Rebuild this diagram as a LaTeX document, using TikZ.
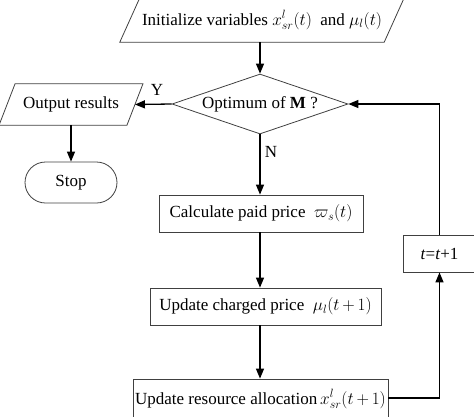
\documentclass[tikz,border=0pt]{standalone}
\usepackage{amsmath}
\usepackage{fontspec}
\setmainfont{Liberation Serif}
\usetikzlibrary{shapes.geometric,shapes.misc,arrows.meta,calc}
\begin{document}
\begin{tikzpicture}[x=1pt,y=-1pt,
  every node/.style={font=\fontsize{17}{20}\selectfont, inner sep=0pt},
  shapeline/.style={draw=black!75, line width=0.8pt},
  boxnode/.style={rectangle, shapeline, minimum height=37pt},
  paranode/.style={rectangle, draw=none},
  conn/.style={draw=black, line width=1.3pt, -{Triangle[length=10pt,width=8pt]}},
  plainconn/.style={draw=black, line width=1.3pt}]
\useasboundingbox (0,0) rectangle (474,416);
\clip (0,0) rectangle (474,416);

% Initialize (parallelogram)
\node[paranode, minimum width=264pt, minimum height=44pt] (init) at (262,20)
  {Initialize variables $x^{l}_{sr}(t)$\ \ and $\mu_l(t)$};
\draw[shapeline] ($(init.north west)+(10,0)$) -- ($(init.north east)+(10,0)$)
  -- ($(init.south east)+(-10,0)$) -- ($(init.south west)+(-10,0)$) -- cycle;

% Decision diamond
\node[diamond, shapeline, aspect=2.93, minimum width=176pt, minimum height=60pt] (dec) at (260,104)
  {Optimum of \textbf{M} ?};

% Output results (parallelogram)
\node[paranode, minimum width=127.5pt, minimum height=41pt] (out) at (71,104.5) {Output results};
\draw[shapeline] ($(out.north west)+(8,0)$) -- ($(out.north east)+(8,0)$)
  -- ($(out.south east)+(-8,0)$) -- ($(out.south west)+(-8,0)$) -- cycle;

% Stop
\node[rounded rectangle, shapeline, minimum width=92pt, minimum height=41pt] (stop) at (71,182.5) {Stop};

% Process boxes
\node[boxnode, minimum width=204pt] (calc) at (261,213.5) {Calculate paid price\ \ $\varpi_s(t)$};
\node[boxnode, minimum width=231pt] (charged) at (265.5,306.5) {Update charged price\ \ $\mu_l(t\,{+}\,1)$};
\node[boxnode, minimum width=255pt, minimum height=40pt] (res) at (260.5,399) {Update resource allocation\,$x^{l}_{sr}(t\,{+}\,1)$};
\node[boxnode, minimum width=73pt] (inc) at (439.5,253.5) {\textit{t}=\textit{t}+1};

% Connectors
\draw[conn] (init.south -| dec.north) -- (dec.north);
\draw[conn] (dec.west) -- (out.east);
\node (ylab) at (157,90) {Y};
\draw[conn] (out.south) -- (stop.north);
\draw[conn] (dec.south) -- (calc.north -| dec.south);
\node (nlab) at (271,152) {N};
\draw[conn] (calc.south -| dec.south) -- (charged.north -| dec.south);
\draw[conn] (charged.south -| dec.south) -- (res.north -| dec.south);
\draw[plainconn] (res.east |- 0,398) -- (inc.south |- 0,398);
\draw[conn] (inc.south |- 0,398) -- (inc.south);
\draw[plainconn] (inc.north) -- (inc.north |- dec.east);
\draw[conn] (inc.north |- dec.east) -- (dec.east);
\end{tikzpicture}
\end{document}
